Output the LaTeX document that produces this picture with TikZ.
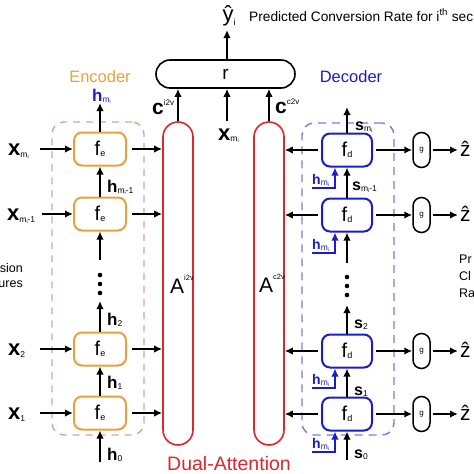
\documentclass[tikz,border=0pt]{standalone}
\usepackage{fontspec}
\setmainfont{Liberation Sans}
\usetikzlibrary{arrows.meta, calc, positioning}

\definecolor{encorange}{HTML}{E9A23B}
\definecolor{encdash}{HTML}{D9A595}
\definecolor{decblue}{HTML}{1C1CC8}
\definecolor{decdash}{HTML}{7A7ADF}
\definecolor{attred}{HTML}{E0262B}

\newcommand{\fsz}[1]{\fontsize{#1}{#1}\selectfont}
\newcommand{\mIdx}{m\raisebox{-1.2pt}{\fsz{5}i}}
\newcommand{\vlab}[3]{{\fsz{#1}\bfseries #2}\raisebox{-1.5pt}{\fsz{8.5}#3}}
\newcommand{\flab}[1]{{\fsz{20}f}\raisebox{-1.5pt}{\fsz{9}#1}}

\begin{document}
\begin{tikzpicture}[x=1pt, y=-1pt,
    arr/.style={-{Latex[length=8pt,width=7.5pt]}, line width=1.6pt},
    harr/.style={arr, decblue},
    cellE/.style={draw=encorange, line width=2pt, rounded corners=8pt, minimum width=52pt, minimum height=33pt, inner sep=0pt},
    cellD/.style={draw=decblue, line width=2pt, rounded corners=8pt, minimum width=50pt, minimum height=33pt, inner sep=0pt},
    attbar/.style={draw=attred, line width=1.6pt, rounded corners=15pt, minimum width=30pt, minimum height=323pt, inner sep=0pt},
    gbox/.style={draw, line width=1.5pt, rounded corners=8.5pt, minimum width=17pt, minimum height=35pt, inner sep=0pt, font=\fsz{8}},
    grp/.style={line width=1.4pt, dash pattern=on 7pt off 6pt, rounded corners=12pt, minimum width=92pt, inner sep=0pt},
    lab/.style={anchor=base west, inner sep=0pt}
]
\useasboundingbox (0,0) rectangle (474,474);

% output part
\node[draw, line width=1.6pt, rounded corners=14pt, minimum width=139pt, minimum height=28pt, inner sep=0pt, font=\fsz{19}] (r) at (225.5,74) {r};
\node[anchor=base, inner sep=0pt, font=\fsz{22}] (yhat) at (229,21) {ŷ\raisebox{-4pt}{\fsz{9}i}};
\node[lab, font=\fsz{13.7}] (title) at (249,21) {Predicted Conversion Rate for i\textsuperscript{th} sec};
\coordinate (ytip) at (227,30);
\draw[arr] (ytip |- r.north) -- (ytip);

% attention
\node[attbar] (ai) at (178,283.5) {};
\node[attbar] (ac) at (269,283.5) {};
\node[lab, font=\fsz{21}] (ailab) at (170,293) {A\raisebox{13pt}{\fsz{7.5}i2v}};
\node[lab, font=\fsz{21}] (aclab) at (259,292) {A\raisebox{13pt}{\fsz{7.5}c2v}};
\node[anchor=base, inner sep=0pt, text=attred, font=\fsz{19.5}] (dualat) at (229,470) {Dual-Attention};
\node[lab, font=\fsz{21}] (ci) at (152,114) {{\bfseries c}\raisebox{9pt}{\fsz{8}i2v}};
\node[lab, font=\fsz{21}] (cc) at (275,113) {{\bfseries c}\raisebox{9pt}{\fsz{8}c2v}};
\node[lab] (xmid) at (218,140) {\vlab{22}{x}{\mIdx}};
\coordinate (xm) at (227,121);
\draw
(ai.north) edge[arr] (ai.north |- r.south)
(ac.north) edge[arr] (ac.north |- r.south)
(xm) edge[arr] (xm |- r.south);

% encoder
\node[grp, draw=encdash, minimum height=313pt] (encbox) at (98,278.5) {};
\node[anchor=base, inner sep=0pt, text=encorange, font=\fsz{16.5}] (enclab) at (100,82) {Encoder};
\node[cellE] (e1) at (100,149) {\flab{e}};
\node[cellE] (e2) at (100,214) {\flab{e}};
\node[cellE] (e3) at (100,349) {\flab{e}};
\node[cellE] (e4) at (100,413) {\flab{e}};
\node[lab] (x1) at (8,155.5) {\vlab{22}{x}{\mIdx}};
\node[lab] (x2) at (7,220.5) {\vlab{22}{x}{\mIdx-1}};
\node[lab] (x3) at (8,355.5) {\vlab{22}{x}{2}};
\node[lab] (x4) at (8,419.5) {\vlab{22}{x}{1}};
\coordinate (in1) at (40,149);
\coordinate (in2) at (42,214);
\coordinate (in3) at (40,349);
\coordinate (in4) at (40,413);
\draw
(in1) edge[arr] (e1)
(in2) edge[arr] (e2)
(in3) edge[arr] (e3)
(in4) edge[arr] (e4)
(e1.east) edge[arr, shorten <=5pt] (e1.east -| ai.west)
(e2.east) edge[arr, shorten <=5pt] (e2.east -| ai.west)
(e3.east) edge[arr, shorten <=5pt] (e3.east -| ai.west)
(e4.east) edge[arr, shorten <=5pt] (e4.east -| ai.west);
\node[lab, text=decblue] (hm) at (92,101) {\vlab{17}{h}{\mIdx}};
\node[lab] (hm1) at (107,192) {\vlab{17}{h}{\mIdx-1}};
\node[lab] (h2) at (107,325) {\vlab{17}{h}{2}};
\node[lab] (h1) at (107,388) {\vlab{17}{h}{1}};
\node[lab] (h0) at (107,460) {\vlab{17}{h}{0}};
\coordinate (etop) at (100,103);
\coordinate (eup) at (100,301);
\coordinate (edown) at (100,260);
\coordinate (ein) at (100,462);
\draw
(e1.north) edge[arr] (etop)
(e2.north) edge[arr] (e1.south)
(edown) edge[arr] (e2.south)
(e3.north) edge[arr] (eup)
(e4.north) edge[arr] (e3.south)
(ein) edge[arr] (e4.south);
\fill (100,275) circle (2.3pt) (100,284) circle (2.3pt) (100,293) circle (2.3pt);
\node[anchor=base east, align=right, inner sep=0pt, font=\fsz{12.5}] (featlab1) at (23,272) {sion};
\node[anchor=base east, align=right, inner sep=0pt, font=\fsz{12.5}] (featlab2) at (23,287) {ures};

% decoder
\node[grp, draw=decdash, dash pattern=on 8pt off 6pt, minimum height=312pt] (decbox) at (348,279) {};
\node[anchor=base, inner sep=0pt, text=decblue, font=\fsz{16.5}] (declab) at (351,82) {Decoder};
\node[cellD] (d1) at (347,150) {\flab{d}};
\node[cellD] (d2) at (347,215) {\flab{d}};
\node[cellD] (d3) at (347,351) {\flab{d}};
\node[cellD] (d4) at (347,414) {\flab{d}};
\node[gbox] (g1) at (421.5,150) {g};
\node[gbox] (g2) at (421.5,215) {g};
\node[gbox] (g3) at (421.5,351) {g};
\node[gbox] (g4) at (421.5,414) {g};
\draw
(d1.west) edge[arr, shorten <=3pt] (d1.west -| ac.east)
(d2.west) edge[arr, shorten <=3pt] (d2.west -| ac.east)
(d3.west) edge[arr, shorten <=3pt] (d3.west -| ac.east)
(d4.west) edge[arr, shorten <=3pt] (d4.west -| ac.east)
(d1) edge[arr, shorten <=3pt] (g1)
(d2) edge[arr, shorten <=3pt] (g2)
(d3) edge[arr, shorten <=3pt] (g3)
(d4) edge[arr, shorten <=3pt] (g4);
\coordinate (z1) at (458,150);
\coordinate (z2) at (458,215);
\coordinate (z3) at (458,351);
\coordinate (z4) at (458,414);
\draw
(g1) edge[arr, shorten <=2pt] (z1)
(g2) edge[arr, shorten <=2pt] (z2)
(g3) edge[arr, shorten <=2pt] (z3)
(g4) edge[arr, shorten <=2pt] (z4);
\node[lab, font=\fsz{21}] (zh1) at (460,156) {ẑ};
\node[lab, font=\fsz{21}] (zh2) at (460,221) {ẑ};
\node[lab, font=\fsz{21}] (zh3) at (460,357) {ẑ};
\node[lab, font=\fsz{21}] (zh4) at (460,420) {ẑ};
\node[lab, font=\fsz{12.5}] (clicklab1) at (459,263) {Pr};
\node[lab, font=\fsz{12.5}] (clicklab2) at (459,280) {Cl};
\node[lab, font=\fsz{12.5}] (clicklab3) at (459,297) {Ra};
\node[lab] (sm) at (355,130) {\vlab{16}{s}{\mIdx}};
\node[lab] (sm1) at (352,190) {\vlab{16}{s}{\mIdx-1}};
\node[lab] (s2) at (354,328) {\vlab{16}{s}{2}};
\node[lab] (s1) at (354,395) {\vlab{16}{s}{1}};
\node[lab] (s0) at (354,458) {\vlab{16}{s}{0}};
\coordinate (dtop) at (347,107);
\coordinate (dup) at (347,305);
\coordinate (ddown) at (347,263);
\coordinate (din) at (347,460);
\draw
(d1.north) edge[arr] (dtop)
(d2.north) edge[arr] (d1.south)
(ddown) edge[arr] (d2.south)
(d3.north) edge[arr] (dup)
(d4.north) edge[arr] (d3.south)
(din) edge[arr] (d4.south);
\fill (347,277) circle (2.3pt) (347,286) circle (2.3pt) (347,295) circle (2.3pt);
% encoder state fed to every decoder step
\node[lab, text=decblue] (hd1) at (312,184) {\vlab{14}{h}{\mIdx}};
\node[lab, text=decblue] (hd2) at (312,249) {\vlab{14}{h}{\mIdx}};
\node[lab, text=decblue] (hd3) at (312,384) {\vlab{14}{h}{\mIdx}};
\node[lab, text=decblue] (hd4) at (312,448) {\vlab{14}{h}{\mIdx}};
\coordinate (hs1) at (312,188);
\coordinate (hs2) at (312,253);
\coordinate (hs3) at (312,388);
\coordinate (hs4) at (312,452);
\draw[harr] (hs1) -| ($(d1.south)+(-12,0)$);
\draw[harr] (hs2) -| ($(d2.south)+(-12,0)$);
\draw[harr] (hs3) -| ($(d3.south)+(-12,0)$);
\draw[harr] (hs4) -| ($(d4.south)+(-12,0)$);
\end{tikzpicture}
\end{document}
